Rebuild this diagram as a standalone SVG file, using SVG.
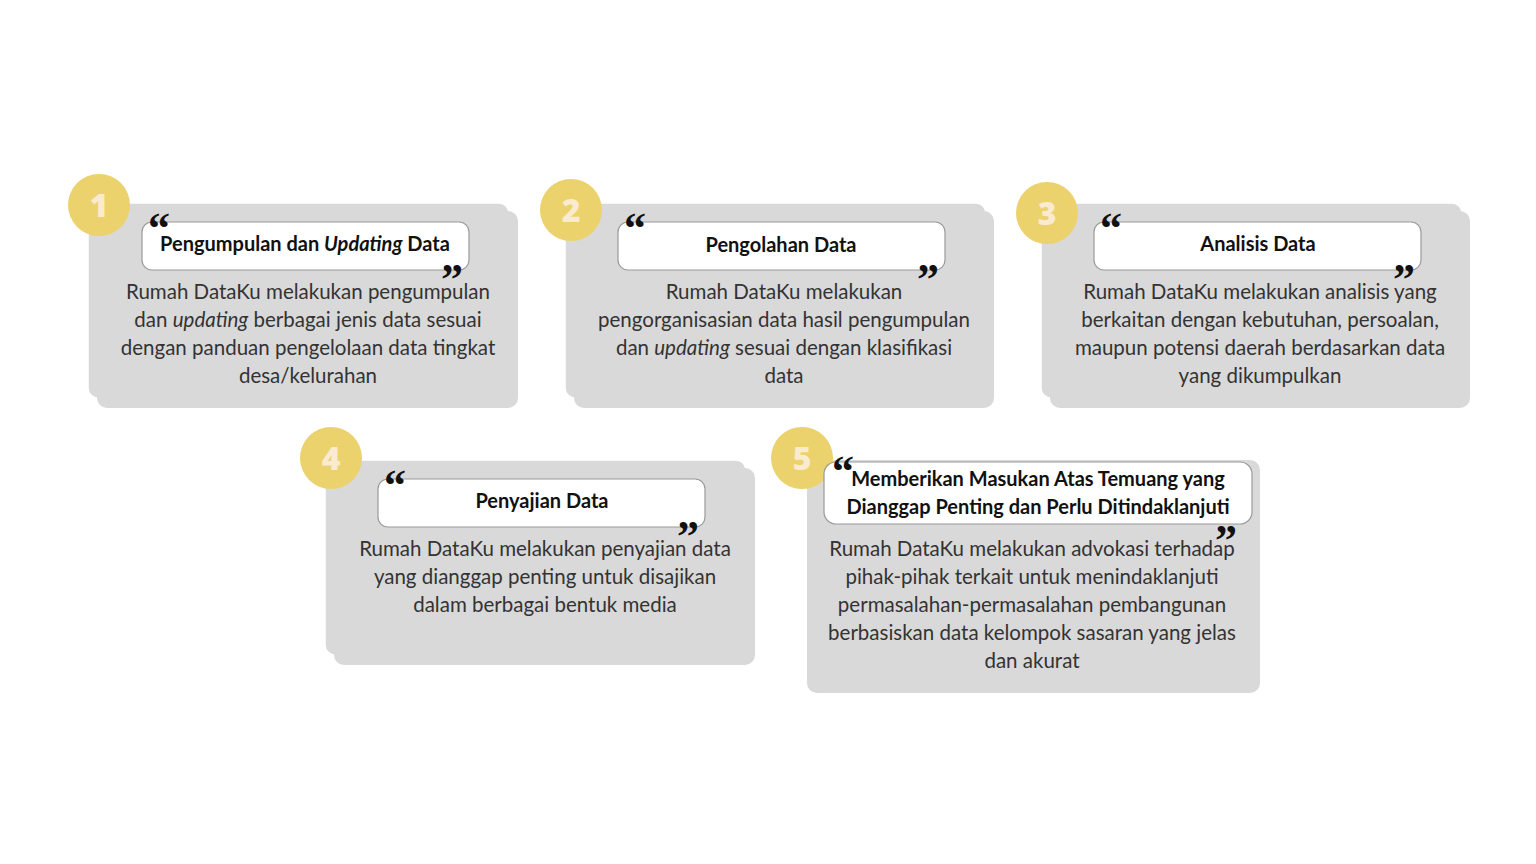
<svg xmlns="http://www.w3.org/2000/svg" width="1536" height="864" viewBox="0 0 1536 864">
<style>
.card{fill:#d9d9d9}
.cb{fill:#d9d9d9;stroke:#fff;stroke-width:1.5}
.box{fill:#fff;stroke:#9a9a9a;stroke-width:1.2}
.num{fill:#ebd26c}
.nt{font-family:"Open Sans",sans-serif;font-weight:800;font-size:32px;fill:#f9ead0;text-anchor:middle}
.tt{font-family:Lato,sans-serif;font-weight:bold;font-size:20px;fill:#111;text-anchor:middle}
.bt{font-family:Lato,sans-serif;font-size:20.5px;fill:#333;text-anchor:middle}
.q{font-family:"Liberation Serif",serif;font-weight:bold;font-size:44px;fill:#111}
</style>
<rect width="1536" height="864" fill="#fff"/>
<g id="n1">
<rect class="cb" x="88" y="203" width="421" height="195" rx="10"/>
<rect class="card" x="97" y="211" width="421" height="197" rx="10"/>
<circle class="num" cx="99" cy="205" r="31"/><text class="nt" x="99" y="217">1</text>
<rect class="box" x="142" y="222" width="327" height="48" rx="10"/>
<text class="q" x="148" y="243">“</text><text class="q" x="441" y="294">”</text>
<text class="tt" x="305" y="251">Pengumpulan dan <tspan font-style="italic">Updating</tspan> Data</text>
<text class="bt" x="308" y="299">Rumah DataKu melakukan pengumpulan</text>
<text class="bt" x="308" y="327">dan <tspan font-style="italic">updating</tspan> berbagai jenis data sesuai</text>
<text class="bt" x="308" y="355">dengan panduan pengelolaan data tingkat</text>
<text class="bt" x="308" y="383">desa/kelurahan</text>
</g>
<g id="n2">
<rect class="cb" x="565" y="203" width="421" height="195" rx="10"/>
<rect class="card" x="574" y="211" width="420" height="197" rx="10"/>
<circle class="num" cx="571" cy="210" r="31"/><text class="nt" x="571" y="222">2</text>
<rect class="box" x="618" y="222" width="327" height="48" rx="10"/>
<text class="q" x="624" y="243">“</text><text class="q" x="917" y="294">”</text>
<text class="tt" x="781" y="252">Pengolahan Data</text>
<text class="bt" x="784" y="299">Rumah DataKu melakukan</text>
<text class="bt" x="784" y="327">pengorganisasian data hasil pengumpulan</text>
<text class="bt" x="784" y="355">dan <tspan font-style="italic">updating</tspan> sesuai dengan klasifikasi</text>
<text class="bt" x="784" y="383">data</text>
</g>
<g id="n3">
<rect class="cb" x="1041" y="203" width="421" height="195" rx="10"/>
<rect class="card" x="1050" y="211" width="420" height="197" rx="10"/>
<circle class="num" cx="1047" cy="213" r="31"/><text class="nt" x="1047" y="225">3</text>
<rect class="box" x="1094" y="222" width="327" height="48" rx="10"/>
<text class="q" x="1100" y="243">“</text><text class="q" x="1393" y="294">”</text>
<text class="tt" x="1258" y="251">Analisis Data</text>
<text class="bt" x="1260" y="299">Rumah DataKu melakukan analisis yang</text>
<text class="bt" x="1260" y="327">berkaitan dengan kebutuhan, persoalan,</text>
<text class="bt" x="1260" y="355">maupun potensi daerah berdasarkan data</text>
<text class="bt" x="1260" y="383">yang dikumpulkan</text>
</g>
<g id="n4">
<rect class="cb" x="325" y="460" width="421" height="195" rx="10"/>
<rect class="card" x="334" y="468" width="421" height="197" rx="10"/>
<circle class="num" cx="331" cy="458" r="31"/><text class="nt" x="331" y="470">4</text>
<rect class="box" x="378" y="479" width="327" height="48" rx="10"/>
<text class="q" x="384" y="500">“</text><text class="q" x="677" y="551">”</text>
<text class="tt" x="542" y="508">Penyajian Data</text>
<text class="bt" x="545" y="556">Rumah DataKu melakukan penyajian data</text>
<text class="bt" x="545" y="584">yang dianggap penting untuk disajikan</text>
<text class="bt" x="545" y="612">dalam berbagai bentuk media</text>
</g>
<g id="n5">
<rect class="card" x="807" y="460" width="453" height="233" rx="10"/>
<circle class="num" cx="802" cy="458" r="31"/><text class="nt" x="802" y="470">5</text>
<rect class="box" x="824" y="462" width="428" height="62" rx="12"/>
<text class="q" x="832" y="486" font-size="60">“</text><text class="q" x="1215" y="555" font-size="60">”</text>
<text class="tt" x="1038" y="486">Memberikan Masukan Atas Temuang yang</text>
<text class="tt" x="1038" y="514">Dianggap Penting dan Perlu Ditindaklanjuti</text>
<text class="bt" x="1032" y="556">Rumah DataKu melakukan advokasi terhadap</text>
<text class="bt" x="1032" y="584">pihak-pihak terkait untuk menindaklanjuti</text>
<text class="bt" x="1032" y="612">permasalahan-permasalahan pembangunan</text>
<text class="bt" x="1032" y="640">berbasiskan data kelompok sasaran yang jelas</text>
<text class="bt" x="1032" y="668">dan akurat</text>
</g>
<g id="connectors"/>
</svg>
